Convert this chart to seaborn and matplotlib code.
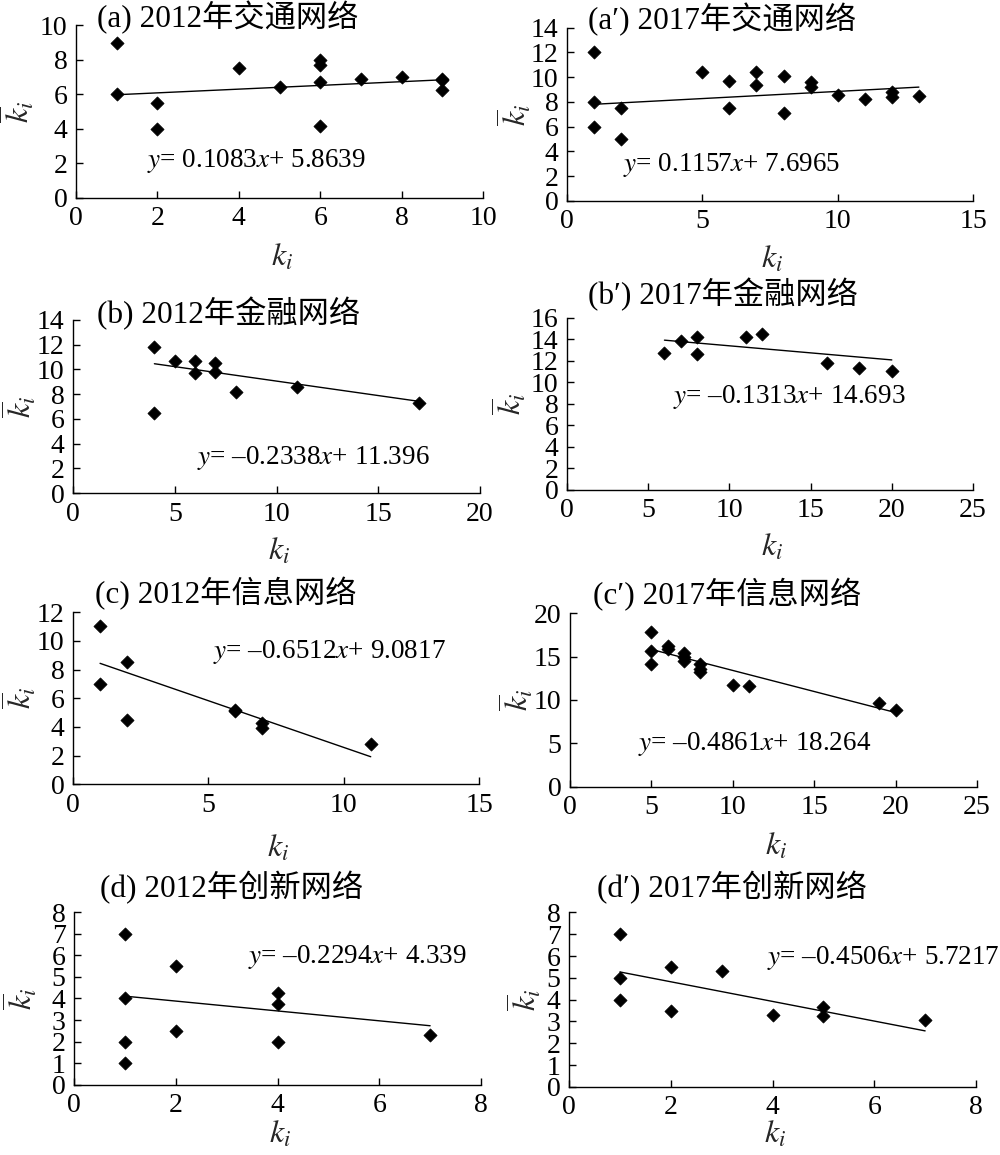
import numpy as np
import pandas as pd
import matplotlib
matplotlib.use('Agg')
import matplotlib.pyplot as plt
import seaborn as sns

# (a) 2012 transport
a_x = [1, 1, 2, 2, 4, 5, 6, 6, 6, 6, 7, 8, 9, 9, 9]
a_y = [9, 6, 5.5, 4, 7.5, 6.4, 8, 7.7, 6.7, 4.15, 6.9, 7, 6.9, 6.8, 6.25]
# (a') 2017 transport
a2_x = [1, 1, 1, 2, 2, 5, 6, 6, 7, 7, 8, 8, 9, 9, 10, 11, 12, 12, 13]
a2_y = [12, 8, 6, 7.5, 5, 10.4, 9.7, 7.5, 10.4, 9.4, 10.1, 7.1, 9.6, 9.2, 8.6, 8.2, 8.8, 8.4, 8.5]
# (b) 2012 finance
b_x = [4, 4, 5, 6, 6, 7, 7, 8, 11, 17]
b_y = [11.8, 6.5, 10.7, 10.7, 9.7, 10.5, 9.8, 8.2, 8.6, 7.3]
# (b') 2017 finance
b2_x = [6, 7, 8, 8, 11, 12, 16, 18, 20]
b2_y = [12.7, 13.8, 14.2, 12.6, 14.2, 14.5, 11.8, 11.3, 11.0]
# (c) 2012 information
c_x = [1, 1, 2, 2, 6, 6, 7, 7, 11]
c_y = [11, 7, 8.5, 4.5, 5.2, 5.1, 4.3, 3.95, 2.8]
# (c') 2017 information
c2_x = [5, 5, 5, 6, 6, 7, 7, 7, 8, 8, 8, 10, 11, 19, 20]
c2_y = [17.8, 15.6, 14.2, 16.2, 15.9, 15.4, 14.9, 14.5, 14.1, 13.6, 13.2, 11.7, 11.6, 9.6, 8.8]
# (d) 2012 innovation
d_x = [1, 1, 1, 1, 2, 2, 4, 4, 4, 7]
d_y = [7, 4, 2, 1, 5.5, 2.5, 4.25, 3.75, 2, 2.3]
# (d') 2017 innovation
d2_x = [1, 1, 1, 2, 2, 3, 4, 5, 5, 7]
d2_y = [7, 5, 4, 5.5, 3.5, 5.3, 3.3, 3.65, 3.25, 3.05]

titles = ['(a) 2012年交通网络', '(a′) 2017年交通网络',
          '(b) 2012年金融网络', '(b′) 2017年金融网络',
          '(c) 2012年信息网络', '(c′) 2017年信息网络',
          '(d) 2012年创新网络', '(d′) 2017年创新网络']
slopes = [0.1083, 0.1157, -0.2338, -0.1313, -0.6512, -0.4861, -0.2294, -0.4506]
intercepts = [5.8639, 7.6965, 11.396, 14.693, 9.0817, 18.264, 4.339, 5.7217]
eq_labels = ['0.1083', '0.1157', '–0.2338', '–0.1313', '–0.6512', '–0.4861', '–0.2294', '–0.4506']
eq_consts = ['5.8639', '7.6965', '11.396', '14.693', '9.0817', '18.264', '4.339', '5.7217']
xmax = [10, 15, 20, 25, 15, 25, 8, 8]
xstep = [2, 5, 5, 5, 5, 5, 2, 2]
ymax = [10, 14, 14, 16, 12, 20, 8, 8]
ystep = [2, 2, 2, 2, 2, 5, 1, 1]

xs = [a_x, a2_x, b_x, b2_x, c_x, c2_x, d_x, d2_x]
ys = [a_y, a2_y, b_y, b2_y, c_y, c2_y, d_y, d2_y]

sns.set_theme(style='ticks')
plt.rcParams['font.family'] = ['Liberation Serif', 'Noto Sans CJK SC']
plt.rcParams['mathtext.fontset'] = 'stix'
plt.rcParams['axes.linewidth'] = 1.0

fig = plt.figure(figsize=(10, 11.55), dpi=100)

# axes boxes [left, bottom, width, height]
boxes = [[0.076, 0.829, 0.407, 0.149], [0.567, 0.826, 0.406, 0.150],
         [0.073, 0.573, 0.407, 0.150], [0.567, 0.576, 0.406, 0.149],
         [0.073, 0.321, 0.406, 0.149], [0.570, 0.319, 0.407, 0.150],
         [0.074, 0.061, 0.407, 0.149], [0.569, 0.059, 0.407, 0.151]]
title_pos = [(0.052, 1.047), (0.052, 1.046), (0.059, 1.04), (0.052, 1.134),
             (0.054, 1.11), (0.057, 1.11), (0.064, 1.145), (0.069, 1.144)]
eq_pos = [(0.174, 0.215), (0.138, 0.208), (0.305, 0.202), (0.261, 0.54),
          (0.345, 0.767), (0.167, 0.243), (0.428, 0.744), (0.486, 0.741)]
ylab_x = [-0.143, -0.128, -0.13, -0.14, -0.13, -0.13, -0.13, -0.108]
xlab_y = [-0.35, -0.34, -0.34, -0.337, -0.372, -0.347, -0.29, -0.276]

for i in range(8):
    ax = fig.add_axes(boxes[i])
    df = pd.DataFrame({'k': xs[i], 'kbar': ys[i]})
    sns.scatterplot(data=df, x='k', y='kbar', ax=ax, marker='D', color='black',
                    s=45, edgecolor='black', linewidth=0.5, zorder=3)
    x0, x1 = min(xs[i]), max(xs[i])
    line = pd.DataFrame({'k': [x0, x1],
                         'kbar': [slopes[i] * x0 + intercepts[i], slopes[i] * x1 + intercepts[i]]})
    sns.lineplot(data=line, x='k', y='kbar', ax=ax, color='black', linewidth=1.0)

    ax.set_xlim(0, xmax[i])
    ax.set_ylim(0, ymax[i])
    ax.set_xticks(np.arange(0, xmax[i] + 0.01, xstep[i]))
    ax.set_yticks(np.arange(0, ymax[i] + 0.01, ystep[i]))
    ax.tick_params(direction='in', length=5, width=1, labelsize=20, pad=6,
                   colors='black')
    sns.despine(ax=ax)
    for sp in ['left', 'bottom']:
        ax.spines[sp].set_color('black')

    ax.set_xlabel(r'$k_i$', fontsize=23, va='center')
    ax.set_ylabel(r'$\overline{k}_i$', fontsize=23, va='center')
    ax.xaxis.set_label_coords(0.506, xlab_y[i])
    ax.yaxis.set_label_coords(ylab_x[i], 0.5)

    ax.text(title_pos[i][0], title_pos[i][1], titles[i], transform=ax.transAxes,
            fontsize=22.5, ha='left', va='center', color='black')
    ax.text(eq_pos[i][0], eq_pos[i][1],
            r'$y$= ' + eq_labels[i] + r'$x$+ ' + eq_consts[i],
            transform=ax.transAxes, fontsize=19.5, ha='left', va='center', color='black')

fig.savefig('out.png', dpi=100, facecolor='white')
